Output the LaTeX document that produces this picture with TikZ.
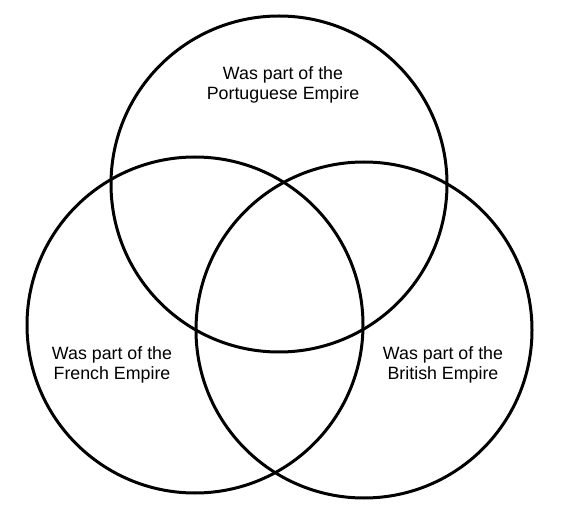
\documentclass[tikz,border=0pt]{standalone}
\usepackage{fontspec}
\setmainfont{Liberation Sans}
\usepackage{tikz}
\usetikzlibrary{positioning}

\tikzset{
  empire/.style={circle, draw, line width=3pt, inner sep=0pt, minimum size=336pt},
  label text/.style={align=center, font=\fontsize{17.8}{20.5}\selectfont}
}

\begin{document}
\begin{tikzpicture}[x=1pt, y=1pt]
        \useasboundingbox (0,0) rectangle (568,528);
        % Circles
        \node[empire] (port) at (279,344) {};
        \node[empire] (fren) at (195,203) {};
        \node[empire] (brit) at (364,198) {};
        % Labels
        \node[label text] (portlbl) at (283,443) {Was part of the\\Portuguese Empire};
        \node[label text] (frenlbl) at (112,163) {Was part of the\\French Empire};
        \node[label text] (britlbl) at (443,163) {Was part of the\\British Empire};
    \end{tikzpicture}
\end{document}
